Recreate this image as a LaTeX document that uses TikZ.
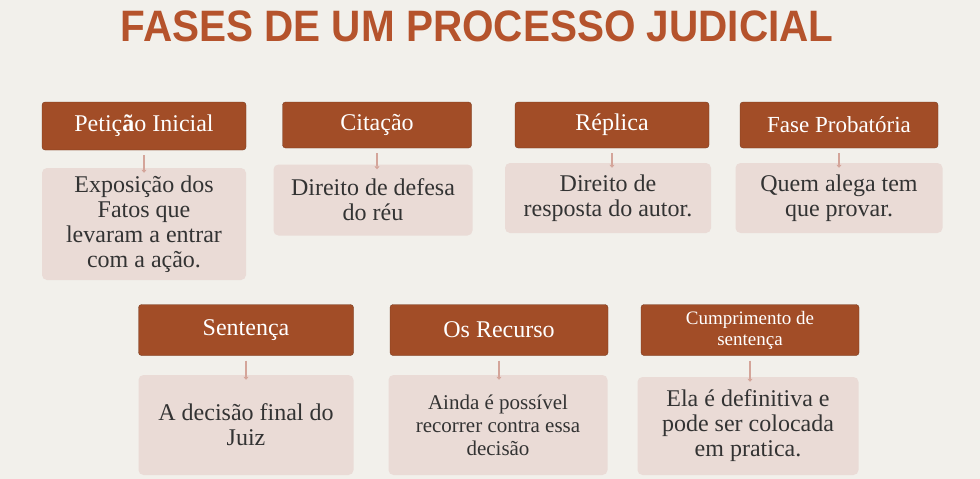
\documentclass[tikz,border=0pt]{standalone}
\usepackage{fontspec}
\setmainfont{Liberation Serif}
\newfontfamily\titlefont{Liberation Sans}
\definecolor{bg}{HTML}{F2F0EB}
\definecolor{hd}{HTML}{A24D27}
\definecolor{ct}{HTML}{EADBD6}
\definecolor{tt}{HTML}{B5532C}
\definecolor{ar}{HTML}{D4A59A}
\usetikzlibrary{arrows.meta}
\tikzset{
 hdbox/.style={fill=hd,draw=hd!70!black,line width=0.3pt,rounded corners=3pt,text=white,align=center,font=\fontsize{24}{26}\selectfont,inner sep=0pt},
 ctbox/.style={fill=ct,rounded corners=5pt,text=black!80,align=center,font=\fontsize{24}{25}\selectfont,inner sep=0pt},
 link/.style={ar,line width=2pt,-{Triangle[length=3pt,width=5pt]}}
}
\begin{document}
\begin{tikzpicture}[x=1pt,y=-1pt]
\fill[bg] (0,0) rectangle (980,479);
\useasboundingbox (0,0) rectangle (980,479);
\node (title) [text=tt,font=\titlefont\bfseries\fontsize{44}{46}\selectfont] at (477,26) {\scalebox{0.92}[1]{FASES DE UM PROCESSO JUDICIAL}};
% row 1
\node (h1) [hdbox,minimum width=204,minimum height=48] at (144,126) {Petiç\textbf{ã}o Inicial};
\node (c1) [ctbox,minimum width=204,minimum height=112] at (144,224) {Exposição dos\\Fatos que\\levaram a entrar\\com a ação.};
\node (h2) [hdbox,minimum width=189,minimum height=46] at (377,125) {Citação};
\node (c2) [ctbox,minimum width=199,minimum height=71] at (373,200) {Direito de defesa\\do réu};
\node (h3) [hdbox,minimum width=194,minimum height=46] at (612,125) {Réplica};
\node (c3) [ctbox,minimum width=206,minimum height=70] at (608,198) {Direito de\\resposta do autor.};
\node (h4) [hdbox,minimum width=198,minimum height=46,font=\fontsize{23}{25}\selectfont] at (839,125) {Fase Probatória};
\node (c4) [ctbox,minimum width=207,minimum height=70] at (839,198) {Quem alega tem\\que provar.};
% row 2
\node (h5) [hdbox,minimum width=215,minimum height=51] at (246,330) {Sentença};
\node (c5) [ctbox,minimum width=215,minimum height=100] at (246,425) {A decisão final do\\Juiz};
\node (h6) [hdbox,minimum width=218,minimum height=51] at (499,330) {Os Recurso};
\node (c6) [ctbox,minimum width=219,minimum height=100,font=\fontsize{21}{23}\selectfont] at (498,425) {Ainda é possível\\recorrer contra essa\\decisão};
\node (h7) [hdbox,minimum width=218,minimum height=51,font=\fontsize{19}{21}\selectfont] at (750,330) {Cumprimento de\\sentença};
\node (c7) [ctbox,minimum width=221,minimum height=98] at (748,426) {Ela é definitiva e\\pode ser colocada\\em pratica.};
\foreach \a/\b in {h1/c1,h2/c2,h3/c3,h4/c4,h5/c5,h6/c6,h7/c7}
 \draw[link] ([yshift=-5]\a.south) -- ([yshift=-5]\a.south |- \b.north);
\end{tikzpicture}
\end{document}
